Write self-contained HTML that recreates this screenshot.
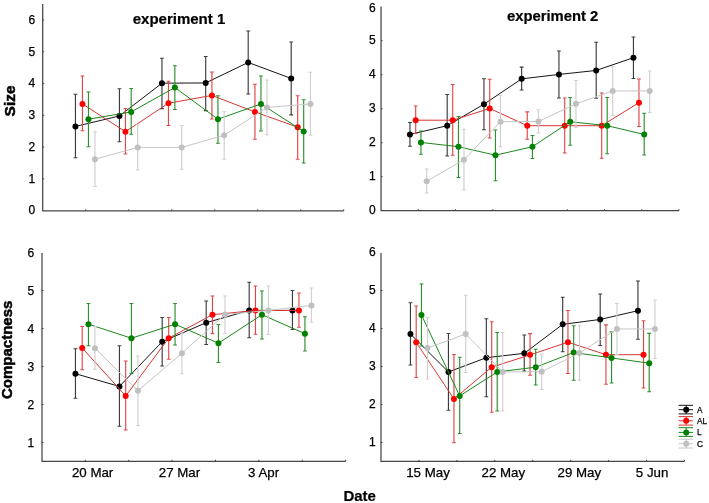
<!DOCTYPE html>
<html><head><meta charset="utf-8"><title>chart</title>
<style>
html,body{margin:0;padding:0;background:#fff;}
svg{display:block;}
text{font-family:"Liberation Sans",Arial,sans-serif;fill:#000;}
.yt text,.xt text,.lg{stroke:#000;stroke-width:0.25px;}
.yt text{font-size:12px;text-anchor:end;}
.xt text{font-size:13.3px;text-anchor:middle;}
.bt text{font-size:15px;font-weight:bold;text-anchor:middle;}
.lg{font-size:8.3px;}
.bt text{stroke:#000;stroke-width:0.2px;}
.bt text.rot{stroke-width:0.5px;}
</style></head><body>
<svg width="709" height="503" viewBox="0 0 709 503">
<rect width="709" height="503" fill="#fff"/>
<g stroke="#454545" stroke-width="1.25" fill="none">
<path d="M42.7,4V210.8H343.8"/>
<path d="M85.70,210.8v-1.5M128.70,210.8v-1.5M171.70,210.8v-1.5M214.70,210.8v-1.5M257.70,210.8v-1.5M300.70,210.8v-1.5M343.70,210.8v-1.5M42.7,178.87h1.5M42.7,147.09h1.5M42.7,115.31h1.5M42.7,83.53h1.5M42.7,51.75h1.5M42.7,19.97h1.5" stroke-width="1"/>
</g>
<g class="yt">
<text x="35.3" y="214.40">0</text>
<text x="35.3" y="182.62">1</text>
<text x="35.3" y="150.84">2</text>
<text x="35.3" y="119.06">3</text>
<text x="35.3" y="87.28">4</text>
<text x="35.3" y="55.50">5</text>
<text x="35.3" y="23.72">6</text>
</g>
<g stroke="#3c3c3c" stroke-width="1.15" fill="none">
<polyline stroke="#151515" stroke-width="1.0" points="75.45,126.45 119.45,115.95 161.95,83.20 205.70,82.95 248.20,62.45 291.20,78.45"/>
<path d="M75.45,94.20V157.70M73.55,94.20H77.35M73.55,157.70H77.35M119.45,88.70V141.70M117.55,88.70H121.35M117.55,141.70H121.35M161.95,58.20V108.65M160.05,58.20H163.85M160.05,108.65H163.85M205.70,56.45V110.65M203.80,56.45H207.60M203.80,110.65H207.60M248.20,30.95V93.95M246.30,30.95H250.10M246.30,93.95H250.10M291.20,41.95V114.85M289.30,41.95H293.10M289.30,114.85H293.10"/>
</g>
<g fill="#000000"><circle cx="75.45" cy="126.45" r="3.0"/><circle cx="119.45" cy="115.95" r="3.0"/><circle cx="161.95" cy="83.20" r="3.0"/><circle cx="205.70" cy="82.95" r="3.0"/><circle cx="248.20" cy="62.45" r="3.0"/><circle cx="291.20" cy="78.45" r="3.0"/></g>
<g stroke="#e04848" stroke-width="1.15" fill="none">
<polyline stroke="#d83434" stroke-width="1.0" points="82.45,103.95 125.45,131.70 168.45,103.20 211.95,95.45 254.95,111.95 297.70,127.20"/>
<path d="M82.45,75.95V130.70M80.55,75.95H84.35M80.55,130.70H84.35M125.45,108.45V153.95M123.55,108.45H127.35M123.55,153.95H127.35M168.45,81.20V125.45M166.55,81.20H170.35M166.55,125.45H170.35M211.95,71.95V118.95M210.05,71.95H213.85M210.05,118.95H213.85M254.95,84.20V139.20M253.05,84.20H256.85M253.05,139.20H256.85M297.70,95.70V159.20M295.80,95.70H299.60M295.80,159.20H299.60"/>
</g>
<g fill="#ff0000"><circle cx="82.45" cy="103.95" r="3.0"/><circle cx="125.45" cy="131.70" r="3.0"/><circle cx="168.45" cy="103.20" r="3.0"/><circle cx="211.95" cy="95.45" r="3.0"/><circle cx="254.95" cy="111.95" r="3.0"/><circle cx="297.70" cy="127.20" r="3.0"/></g>
<g stroke="#2c902c" stroke-width="1.15" fill="none">
<polyline stroke="#1c881c" stroke-width="1.0" points="88.45,119.20 131.20,111.95 174.85,87.55 217.95,119.20 260.95,103.95 303.70,131.45"/>
<path d="M88.45,91.95V146.70M86.55,91.95H90.35M86.55,146.70H90.35M131.20,88.45V134.20M129.30,88.45H133.10M129.30,134.20H133.10M174.85,65.70V109.45M172.95,65.70H176.75M172.95,109.45H176.75M217.95,95.70V143.20M216.05,95.70H219.85M216.05,143.20H219.85M260.95,75.95V130.95M259.05,75.95H262.85M259.05,130.95H262.85M303.70,99.70V162.95M301.80,99.70H305.60M301.80,162.95H305.60"/>
</g>
<g fill="#008000"><circle cx="88.45" cy="119.20" r="3.0"/><circle cx="131.20" cy="111.95" r="3.0"/><circle cx="174.85" cy="87.55" r="3.0"/><circle cx="217.95" cy="119.20" r="3.0"/><circle cx="260.95" cy="103.95" r="3.0"/><circle cx="303.70" cy="131.45" r="3.0"/></g>
<g stroke="#d0d0d0" stroke-width="1.15" fill="none">
<polyline stroke="#c6c6c6" stroke-width="1.0" points="94.95,159.20 137.70,147.45 181.70,147.45 224.20,135.20 266.95,107.45 310.45,103.95"/>
<path d="M94.95,131.70V186.45M93.05,131.70H96.85M93.05,186.45H96.85M137.70,124.70V169.95M135.80,124.70H139.60M135.80,169.95H139.60M181.70,125.45V169.20M179.80,125.45H183.60M179.80,169.20H183.60M224.20,111.70V159.20M222.30,111.70H226.10M222.30,159.20H226.10M266.95,79.95V134.70M265.05,79.95H268.85M265.05,134.70H268.85M310.45,72.20V135.20M308.55,72.20H312.35M308.55,135.20H312.35"/>
</g>
<g fill="#c0c0c0"><circle cx="94.95" cy="159.20" r="3.0"/><circle cx="137.70" cy="147.45" r="3.0"/><circle cx="181.70" cy="147.45" r="3.0"/><circle cx="224.20" cy="135.20" r="3.0"/><circle cx="266.95" cy="107.45" r="3.0"/><circle cx="310.45" cy="103.95" r="3.0"/></g>
<g stroke="#454545" stroke-width="1.25" fill="none">
<path d="M381.05,6.4V210.7H679"/>
<path d="M418.25,210.7v-1.5M455.50,210.7v-1.5M492.75,210.7v-1.5M530.00,210.7v-1.5M567.25,210.7v-1.5M604.50,210.7v-1.5M641.75,210.7v-1.5M679.00,210.7v-1.5M381.05,176.65h1.5M381.05,142.65h1.5M381.05,108.65h1.5M381.05,74.65h1.5M381.05,40.65h1.5" stroke-width="1"/>
</g>
<g class="yt">
<text x="375.6" y="213.95">0</text>
<text x="375.6" y="179.95">1</text>
<text x="375.6" y="145.95">2</text>
<text x="375.6" y="111.95">3</text>
<text x="375.6" y="77.95">4</text>
<text x="375.6" y="43.95">5</text>
<text x="375.6" y="12.30">6</text>
</g>
<g stroke="#3c3c3c" stroke-width="1.15" fill="none">
<polyline stroke="#151515" stroke-width="1.0" points="409.95,134.45 447.20,125.70 483.95,104.20 521.65,78.85 558.95,74.45 596.20,70.45 633.45,57.70"/>
<path d="M409.95,122.45V146.20M408.05,122.45H411.85M408.05,146.20H411.85M447.20,94.45V155.95M445.30,94.45H449.10M445.30,155.95H449.10M483.95,78.70V129.70M482.05,78.70H485.85M482.05,129.70H485.85M521.65,67.15V89.95M519.75,67.15H523.55M519.75,89.95H523.55M558.95,50.95V97.95M557.05,50.95H560.85M557.05,97.95H560.85M596.20,42.20V98.20M594.30,42.20H598.10M594.30,98.20H598.10M633.45,36.95V78.45M631.55,36.95H635.35M631.55,78.45H635.35"/>
</g>
<g fill="#000000"><circle cx="409.95" cy="134.45" r="3.0"/><circle cx="447.20" cy="125.70" r="3.0"/><circle cx="483.95" cy="104.20" r="3.0"/><circle cx="521.65" cy="78.85" r="3.0"/><circle cx="558.95" cy="74.45" r="3.0"/><circle cx="596.20" cy="70.45" r="3.0"/><circle cx="633.45" cy="57.70" r="3.0"/></g>
<g stroke="#e04848" stroke-width="1.15" fill="none">
<polyline stroke="#d83434" stroke-width="1.0" points="415.70,120.20 452.70,120.20 489.70,108.45 527.25,125.70 564.70,125.70 601.70,125.70 638.95,102.70"/>
<path d="M415.70,105.95V133.45M413.80,105.95H417.60M413.80,133.45H417.60M452.70,84.45V155.20M450.80,84.45H454.60M450.80,155.20H454.60M489.70,79.20V137.95M487.80,79.20H491.60M487.80,137.95H491.60M527.25,111.85V139.20M525.35,111.85H529.15M525.35,139.20H529.15M564.70,97.95V152.95M562.80,97.95H566.60M562.80,152.95H566.60M601.70,92.95V158.20M599.80,92.95H603.60M599.80,158.20H603.60M638.95,78.95V126.45M637.05,78.95H640.85M637.05,126.45H640.85"/>
</g>
<g fill="#ff0000"><circle cx="415.70" cy="120.20" r="3.0"/><circle cx="452.70" cy="120.20" r="3.0"/><circle cx="489.70" cy="108.45" r="3.0"/><circle cx="527.25" cy="125.70" r="3.0"/><circle cx="564.70" cy="125.70" r="3.0"/><circle cx="601.70" cy="125.70" r="3.0"/><circle cx="638.95" cy="102.70" r="3.0"/></g>
<g stroke="#2c902c" stroke-width="1.15" fill="none">
<polyline stroke="#1c881c" stroke-width="1.0" points="420.95,142.45 458.45,146.70 495.45,155.20 532.45,146.70 570.20,121.70 607.20,125.70 644.20,134.45"/>
<path d="M420.95,130.95V154.20M419.05,130.95H422.85M419.05,154.20H422.85M458.45,116.45V177.45M456.55,116.45H460.35M456.55,177.45H460.35M495.45,129.95V180.70M493.55,129.95H497.35M493.55,180.70H497.35M532.45,135.45V158.45M530.55,135.45H534.35M530.55,158.45H534.35M570.20,97.45V145.20M568.30,97.45H572.10M568.30,145.20H572.10M607.20,97.45V153.70M605.30,97.45H609.10M605.30,153.70H609.10M644.20,113.20V154.95M642.30,113.20H646.10M642.30,154.95H646.10"/>
</g>
<g fill="#008000"><circle cx="420.95" cy="142.45" r="3.0"/><circle cx="458.45" cy="146.70" r="3.0"/><circle cx="495.45" cy="155.20" r="3.0"/><circle cx="532.45" cy="146.70" r="3.0"/><circle cx="570.20" cy="121.70" r="3.0"/><circle cx="607.20" cy="125.70" r="3.0"/><circle cx="644.20" cy="134.45" r="3.0"/></g>
<g stroke="#d0d0d0" stroke-width="1.15" fill="none">
<polyline stroke="#c6c6c6" stroke-width="1.0" points="426.70,181.20 463.95,159.70 500.45,121.70 538.45,121.45 575.95,103.85 612.70,90.95 649.70,90.95"/>
<path d="M426.70,168.95V192.95M424.80,168.95H428.60M424.80,192.95H428.60M463.95,129.20V189.95M462.05,129.20H465.85M462.05,189.95H465.85M500.45,95.45V146.70M498.55,95.45H502.35M498.55,146.70H502.35M538.45,109.70V132.95M536.55,109.70H540.35M536.55,132.95H540.35M575.95,80.45V127.45M574.05,80.45H577.85M574.05,127.45H577.85M612.70,66.70V115.45M610.80,66.70H614.60M610.80,115.45H614.60M649.70,70.95V112.45M647.80,70.95H651.60M647.80,112.45H651.60"/>
</g>
<g fill="#c0c0c0"><circle cx="426.70" cy="181.20" r="3.0"/><circle cx="463.95" cy="159.70" r="3.0"/><circle cx="500.45" cy="121.70" r="3.0"/><circle cx="538.45" cy="121.45" r="3.0"/><circle cx="575.95" cy="103.85" r="3.0"/><circle cx="612.70" cy="90.95" r="3.0"/><circle cx="649.70" cy="90.95" r="3.0"/></g>
<g stroke="#454545" stroke-width="1.25" fill="none">
<path d="M42.0,253.0V461.3H345.6"/>
<path d="M85.37,461.3v-1.5M128.74,461.3v-1.5M172.11,461.3v-1.5M215.48,461.3v-1.5M258.85,461.3v-1.5M302.22,461.3v-1.5M345.59,461.3v-1.5M42.0,442.50h1.5M42.0,404.50h1.5M42.0,366.50h1.5M42.0,328.50h1.5M42.0,290.50h1.5" stroke-width="1"/>
</g>
<g class="yt">
<text x="34.2" y="446.50">1</text>
<text x="34.2" y="408.50">2</text>
<text x="34.2" y="370.50">3</text>
<text x="34.2" y="332.50">4</text>
<text x="34.2" y="294.50">5</text>
<text x="34.2" y="256.50">6</text>
</g>
<g stroke="#3c3c3c" stroke-width="1.15" fill="none">
<polyline stroke="#151515" stroke-width="1.0" points="75.45,373.70 119.45,386.45 162.20,341.70 206.20,322.70 249.20,310.45 292.45,310.45"/>
<path d="M75.45,348.70V398.20M73.55,348.70H77.35M73.55,398.20H77.35M119.45,345.70V426.20M117.55,345.70H121.35M117.55,426.20H121.35M162.20,317.45V365.95M160.30,317.45H164.10M160.30,365.95H164.10M206.20,300.95V344.45M204.30,300.95H208.10M204.30,344.45H208.10M249.20,282.20V337.70M247.30,282.20H251.10M247.30,337.70H251.10M292.45,290.45V329.45M290.55,290.45H294.35M290.55,329.45H294.35"/>
</g>
<g fill="#000000"><circle cx="75.45" cy="373.70" r="3.0"/><circle cx="119.45" cy="386.45" r="3.0"/><circle cx="162.20" cy="341.70" r="3.0"/><circle cx="206.20" cy="322.70" r="3.0"/><circle cx="249.20" cy="310.45" r="3.0"/><circle cx="292.45" cy="310.45" r="3.0"/></g>
<g stroke="#e04848" stroke-width="1.15" fill="none">
<polyline stroke="#d83434" stroke-width="1.0" points="82.20,347.95 125.70,395.95 168.70,338.20 212.45,314.70 255.45,310.45 298.95,310.45"/>
<path d="M82.20,326.45V369.70M80.30,326.45H84.10M80.30,369.70H84.10M125.70,360.95V429.95M123.80,360.95H127.60M123.80,429.95H127.60M168.70,317.45V359.20M166.80,317.45H170.60M166.80,359.20H170.60M212.45,295.95V333.45M210.55,295.95H214.35M210.55,333.45H214.35M255.45,285.95V334.20M253.55,285.95H257.35M253.55,334.20H257.35M298.95,292.95V327.20M297.05,292.95H300.85M297.05,327.20H300.85"/>
</g>
<g fill="#ff0000"><circle cx="82.20" cy="347.95" r="3.0"/><circle cx="125.70" cy="395.95" r="3.0"/><circle cx="168.70" cy="338.20" r="3.0"/><circle cx="212.45" cy="314.70" r="3.0"/><circle cx="255.45" cy="310.45" r="3.0"/><circle cx="298.95" cy="310.45" r="3.0"/></g>
<g stroke="#2c902c" stroke-width="1.15" fill="none">
<polyline stroke="#1c881c" stroke-width="1.0" points="88.45,324.20 131.45,338.20 175.05,324.20 218.45,343.20 261.95,314.70 304.95,333.70"/>
<path d="M88.45,303.45V345.70M86.55,303.45H90.35M86.55,345.70H90.35M131.45,303.45V373.45M129.55,303.45H133.35M129.55,373.45H133.35M175.05,303.45V344.95M173.15,303.45H176.95M173.15,344.95H176.95M218.45,324.45V362.45M216.55,324.45H220.35M216.55,362.45H220.35M261.95,290.95V338.95M260.05,290.95H263.85M260.05,338.95H263.85M304.95,316.70V350.95M303.05,316.70H306.85M303.05,350.95H306.85"/>
</g>
<g fill="#008000"><circle cx="88.45" cy="324.20" r="3.0"/><circle cx="131.45" cy="338.20" r="3.0"/><circle cx="175.05" cy="324.20" r="3.0"/><circle cx="218.45" cy="343.20" r="3.0"/><circle cx="261.95" cy="314.70" r="3.0"/><circle cx="304.95" cy="333.70" r="3.0"/></g>
<g stroke="#d0d0d0" stroke-width="1.15" fill="none">
<polyline stroke="#c6c6c6" stroke-width="1.0" points="94.95,348.20 137.95,390.70 181.95,353.20 224.95,314.45 268.45,310.45 311.45,305.45"/>
<path d="M94.95,326.45V369.20M93.05,326.45H96.85M93.05,369.20H96.85M137.95,355.95V425.45M136.05,355.95H139.85M136.05,425.45H139.85M181.95,332.95V373.70M180.05,332.95H183.85M180.05,373.70H183.85M224.95,295.95V333.45M223.05,295.95H226.85M223.05,333.45H226.85M268.45,285.95V334.20M266.55,285.95H270.35M266.55,334.20H270.35M311.45,287.95V322.20M309.55,287.95H313.35M309.55,322.20H313.35"/>
</g>
<g fill="#c0c0c0"><circle cx="94.95" cy="348.20" r="3.0"/><circle cx="137.95" cy="390.70" r="3.0"/><circle cx="181.95" cy="353.20" r="3.0"/><circle cx="224.95" cy="314.45" r="3.0"/><circle cx="268.45" cy="310.45" r="3.0"/><circle cx="311.45" cy="305.45" r="3.0"/></g>
<g stroke="#454545" stroke-width="1.25" fill="none">
<path d="M381.0,253.0V461.4H684.4"/>
<path d="M418.93,461.4v-1.5M456.86,461.4v-1.5M494.79,461.4v-1.5M532.72,461.4v-1.5M570.65,461.4v-1.5M608.58,461.4v-1.5M646.51,461.4v-1.5M684.44,461.4v-1.5M381.0,442.50h1.5M381.0,404.50h1.5M381.0,366.50h1.5M381.0,328.50h1.5M381.0,290.50h1.5" stroke-width="1"/>
</g>
<g class="yt">
<text x="375.6" y="446.40">1</text>
<text x="375.6" y="408.40">2</text>
<text x="375.6" y="370.40">3</text>
<text x="375.6" y="332.40">4</text>
<text x="375.6" y="294.40">5</text>
<text x="375.6" y="256.40">6</text>
</g>
<g stroke="#3c3c3c" stroke-width="1.15" fill="none">
<polyline stroke="#151515" stroke-width="1.0" points="410.45,333.95 448.45,371.95 486.35,357.70 524.25,353.35 562.70,324.35 600.20,319.45 637.95,310.70"/>
<path d="M410.45,302.70V364.95M408.55,302.70H412.35M408.55,364.95H412.35M448.45,333.45V410.20M446.55,333.45H450.35M446.55,410.20H450.35M486.35,318.70V396.70M484.45,318.70H488.25M484.45,396.70H488.25M524.25,334.95V371.05M522.35,334.95H526.15M522.35,371.05H526.15M562.70,297.20V351.70M560.80,297.20H564.60M560.80,351.70H564.60M600.20,293.95V345.45M598.30,293.95H602.10M598.30,345.45H602.10M637.95,280.95V339.20M636.05,280.95H639.85M636.05,339.20H639.85"/>
</g>
<g fill="#000000"><circle cx="410.45" cy="333.95" r="3.0"/><circle cx="448.45" cy="371.95" r="3.0"/><circle cx="486.35" cy="357.70" r="3.0"/><circle cx="524.25" cy="353.35" r="3.0"/><circle cx="562.70" cy="324.35" r="3.0"/><circle cx="600.20" cy="319.45" r="3.0"/><circle cx="637.95" cy="310.70" r="3.0"/></g>
<g stroke="#e04848" stroke-width="1.15" fill="none">
<polyline stroke="#d83434" stroke-width="1.0" points="416.20,342.35 453.95,398.95 491.70,367.20 530.05,354.85 567.95,342.20 605.95,354.70 643.55,354.70"/>
<path d="M416.20,305.95V377.45M414.30,305.95H418.10M414.30,377.45H418.10M453.95,354.45V442.70M452.05,354.45H455.85M452.05,442.70H455.85M491.70,321.70V412.20M489.80,321.70H493.60M489.80,412.20H493.60M530.05,333.65V375.20M528.15,333.65H531.95M528.15,375.20H531.95M567.95,310.45V373.45M566.05,310.45H569.85M566.05,373.45H569.85M605.95,324.85V384.20M604.05,324.85H607.85M604.05,384.20H607.85M643.55,320.70V387.95M641.65,320.70H645.45M641.65,387.95H645.45"/>
</g>
<g fill="#ff0000"><circle cx="416.20" cy="342.35" r="3.0"/><circle cx="453.95" cy="398.95" r="3.0"/><circle cx="491.70" cy="367.20" r="3.0"/><circle cx="530.05" cy="354.85" r="3.0"/><circle cx="567.95" cy="342.20" r="3.0"/><circle cx="605.95" cy="354.70" r="3.0"/><circle cx="643.55" cy="354.70" r="3.0"/></g>
<g stroke="#2c902c" stroke-width="1.15" fill="none">
<polyline stroke="#1c881c" stroke-width="1.0" points="421.45,314.95 459.70,395.95 497.20,371.95 535.70,367.20 573.70,352.45 611.55,357.95 649.20,363.20"/>
<path d="M421.45,283.95V345.95M419.55,283.95H423.35M419.55,345.95H423.35M459.70,357.20V433.45M457.80,357.20H461.60M457.80,433.45H461.60M497.20,332.45V410.95M495.30,332.45H499.10M495.30,410.95H499.10M535.70,349.20V384.95M533.80,349.20H537.60M533.80,384.95H537.60M573.70,325.70V380.20M571.80,325.70H575.60M571.80,380.20H575.60M611.55,331.85V382.95M609.65,331.85H613.45M609.65,382.95H613.45M649.20,333.35V391.70M647.30,333.35H651.10M647.30,391.70H651.10"/>
</g>
<g fill="#008000"><circle cx="421.45" cy="314.95" r="3.0"/><circle cx="459.70" cy="395.95" r="3.0"/><circle cx="497.20" cy="371.95" r="3.0"/><circle cx="535.70" cy="367.20" r="3.0"/><circle cx="573.70" cy="352.45" r="3.0"/><circle cx="611.55" cy="357.95" r="3.0"/><circle cx="649.20" cy="363.20" r="3.0"/></g>
<g stroke="#d0d0d0" stroke-width="1.15" fill="none">
<polyline stroke="#c6c6c6" stroke-width="1.0" points="427.45,348.05 465.70,333.95 502.70,371.95 541.70,371.70 579.45,352.95 616.95,328.95 654.95,328.95"/>
<path d="M427.45,317.20V378.95M425.55,317.20H429.35M425.55,378.95H429.35M465.70,295.20V372.45M463.80,295.20H467.60M463.80,372.45H467.60M502.70,332.45V410.95M500.80,332.45H504.60M500.80,410.95H504.60M541.70,353.95V389.45M539.80,353.95H543.60M539.80,389.45H543.60M579.45,325.70V380.20M577.55,325.70H581.35M577.55,380.20H581.35M616.95,303.45V354.45M615.05,303.45H618.85M615.05,354.45H618.85M654.95,299.95V358.45M653.05,299.95H656.85M653.05,358.45H656.85"/>
</g>
<g fill="#c0c0c0"><circle cx="427.45" cy="348.05" r="3.0"/><circle cx="465.70" cy="333.95" r="3.0"/><circle cx="502.70" cy="371.95" r="3.0"/><circle cx="541.70" cy="371.70" r="3.0"/><circle cx="579.45" cy="352.95" r="3.0"/><circle cx="616.95" cy="328.95" r="3.0"/><circle cx="654.95" cy="328.95" r="3.0"/></g>
<g class="xt">
<text x="92.6" y="476.8">20 Mar</text>
<text x="179.5" y="476.8">27 Mar</text>
<text x="263.6" y="476.8">3 Apr</text>
<text x="428" y="476.8">15 May</text>
<text x="503.3" y="476.8">22 May</text>
<text x="579.3" y="476.8">29 May</text>
<text x="652.1" y="476.8">5 Jun</text>
</g>
<g class="bt">
<text x="179" y="23.7">experiment 1</text>
<text x="552.6" y="21.2" style="font-size:14.8px">experiment 2</text>
<text x="359.7" y="501">Date</text>
<text class="rot" style="font-size:15.5px" transform="translate(14.5,100.9) rotate(-90)">Size</text>
<text class="rot" transform="translate(12.1,349.8) rotate(-90)">Compactness</text>
</g>
<g stroke="#151515" stroke-width="1" fill="none"><path d="M678.6,405.3H693M678.6,409.7H693M678.6,413.9H693M686.2,405.3V413.9"/></g>
<circle cx="686.2" cy="409.7" r="3" fill="#000000"/>
<text class="lg" x="697" y="412.70">A</text>
<g stroke="#d83434" stroke-width="1" fill="none"><path d="M678.6,416.6H693M678.6,420.8H693M678.6,425.1H693M686.2,416.6V425.1"/></g>
<circle cx="686.2" cy="420.8" r="3" fill="#ff0000"/>
<text class="lg" x="697" y="423.80">AL</text>
<g stroke="#1c881c" stroke-width="1" fill="none"><path d="M678.6,427.7H693M678.6,432.4H693M678.6,436.4H693M686.2,427.7V436.4"/></g>
<circle cx="686.2" cy="432.4" r="3" fill="#008000"/>
<text class="lg" x="697" y="435.40">L</text>
<g stroke="#c6c6c6" stroke-width="1" fill="none"><path d="M678.6,439.2H693M678.6,443.7H693M678.6,448H693M686.2,439.2V448"/></g>
<circle cx="686.2" cy="443.7" r="3" fill="#c0c0c0"/>
<text class="lg" x="697" y="446.70">C</text>
</svg>
</body></html>
